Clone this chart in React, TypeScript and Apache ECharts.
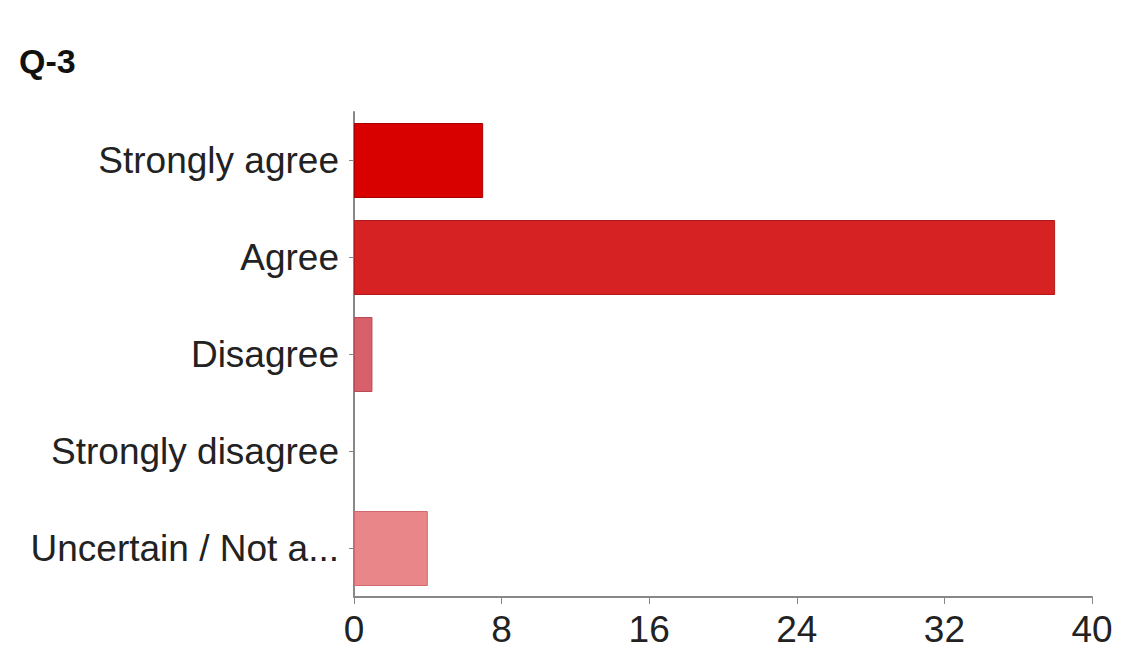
import React, { useEffect, useRef } from "react";
import * as echarts from "echarts";

const categories = ["Strongly agree", "Agree", "Disagree", "Strongly disagree", "Uncertain / Not a..."];
const values = [7, 38, 1, 0, 4];
const barColors = ["#d90000", "#d62222", "#d8606a", "#ffffff", "#e8868a"];
const borderColors = ["#a80000", "#b01a1a", "#b84a55", "#ffffff", "#d06a70"];
const xTicks = [0, 8, 16, 24, 32, 40];

export default function App() {
  const ref = useRef<HTMLDivElement>(null);
  useEffect(() => {
    if (!ref.current) return;
    const chart = echarts.init(ref.current, undefined, { renderer: "svg" });
    chart.setOption({
      animation: false,
      backgroundColor: "#ffffff",
      title: {
        text: "Q-3",
        left: 14,
        top: 39,
        textStyle: { fontFamily: "Liberation Sans, Arial, sans-serif", fontSize: 34, fontWeight: "bold", color: "#111" },
      },
      grid: { left: 354, right: 45, top: 112, bottom: 72, containLabel: false },
      xAxis: {
        type: "value",
        min: xTicks[0],
        max: xTicks[xTicks.length - 1],
        interval: 8,
        axisLine: { show: true, lineStyle: { color: "#888", width: 2 } },
        axisTick: { show: true, length: 7, lineStyle: { color: "#888" } },
        splitLine: { show: false },
        axisLabel: {
          margin: 14,
          fontFamily: "Liberation Sans, Arial, sans-serif",
          fontSize: 37,
          color: "#222",
        },
      },
      yAxis: {
        type: "category",
        inverse: true,
        data: categories,
        axisLine: { show: true, lineStyle: { color: "#888", width: 2 } },
        axisTick: { show: true, length: 5, alignWithLabel: true, lineStyle: { color: "#888" } },
        axisLabel: {
          margin: 15,
          fontFamily: "Liberation Sans, Arial, sans-serif",
          fontSize: 37,
          color: "#222",
        },
      },
      series: [
        {
          type: "bar",
          barWidth: 75,
          data: values.map((v, i) => ({
            value: v,
            itemStyle: { color: barColors[i], borderColor: borderColors[i], borderWidth: v > 0 ? 1 : 0 },
          })),
        },
      ],
    });
    return () => chart.dispose();
  }, []);
  return <div ref={ref} style={{ position: "fixed", left: 0, top: 0, width: 1137, height: 669 }} />;
}
